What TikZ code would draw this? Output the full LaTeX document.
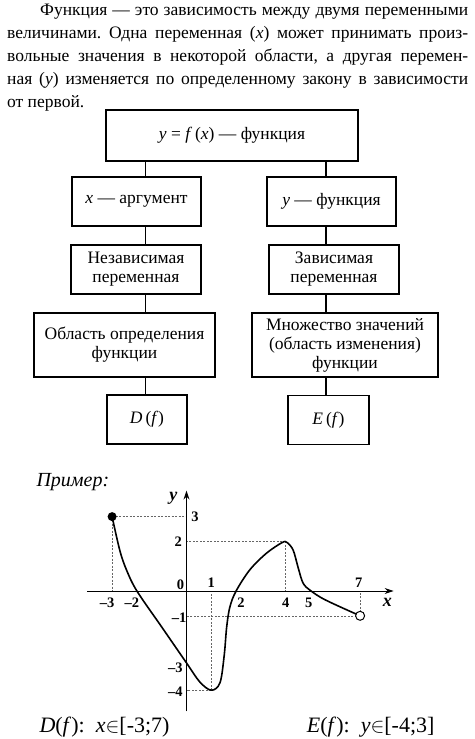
\documentclass[tikz,border=0pt]{standalone}
\usepackage{fontspec}
\setmainfont{Liberation Serif}
\usetikzlibrary{arrows.meta,positioning}

\begin{document}
\frenchspacing
\begin{tikzpicture}[
  x=1pt, y=1pt,
  font=\fontsize{17.5}{19}\selectfont,
  role/.style={draw, line width=1.1pt, align=center, inner sep=2pt},
  link/.style={line width=1.1pt},
  guide/.style={gray!80!black, line width=0.5pt, dash pattern=on 2pt off 1.5pt},
  tick/.style={font=\fontsize{14.5}{14.5}\selectfont\bfseries, inner sep=1pt},
  axis/.style={line width=1pt, -{Stealth[length=9pt,width=6pt]}},
  curve/.style={line width=1.6pt, line join=round}
]
\useasboundingbox (0,0) rectangle (474,-739);

% text
\node[anchor=north west, text width=461pt, align=justify, inner sep=0pt,
  font=\fontsize{17.5}{23}\selectfont] (intro) at (7,-4)
  {\hspace*{33pt}Функция — это зависимость между двумя переменными\linebreak
   величинами. Одна переменная (\textit{x}) может принимать произ-\linebreak
   вольные значения в некоторой области, а другая перемен-\linebreak
   ная (\textit{y}) изменяется по определенному закону в зависимости\linebreak
   от первой.};

% scheme
\node[role, minimum width=252pt, minimum height=51pt] (func) at (232,-135.5)
  {\textit{y} = \textit{f}\,(\textit{x}) — функция};
\node[role, minimum width=129pt, minimum height=49pt] (arg) at (136.5,-201.5)
  {\textit{x} — аргумент};
\node[role, minimum width=129pt, minimum height=49pt] (yfunc) at (331.5,-201.5)
  {\textit{y} — функция};
\node[role, minimum width=130pt, minimum height=49pt] (indep) at (136,-269.5)
  {Независимая\\переменная};
\node[role, minimum width=130pt, minimum height=49pt] (dep) at (334,-269.5)
  {Зависимая\\переменная};
\node[role, minimum width=181pt, minimum height=64pt] (domain) at (124.5,-345)
  {Область определения\\функции};
\node[role, minimum width=186pt, minimum height=64pt] (range) at (345,-345)
  {Множество значений\\(область изменения)\\функции};
\node[role, minimum width=80pt, minimum height=49pt] (dom) at (147,-419.5)
  {\textit{D}\,(\textit{f})};
\node[role, minimum width=81pt, minimum height=49pt] (ran) at (328.5,-420)
  {\textit{E}\,(\textit{f})};

\coordinate (lcol) at (145.5,0);
\coordinate (rcol) at (326,0);
\draw[link] (func.south -| lcol) -- (arg.north -| lcol);
\draw[link] (arg.south -| lcol) -- (indep.north -| lcol);
\draw[link] (indep.south -| lcol) -- (domain.north -| lcol);
\draw[link] (domain.south -| lcol) -- (dom.north -| lcol);
\draw[link] (func.south -| rcol) -- (yfunc.north -| rcol);
\draw[link] (yfunc.south -| rcol) -- (dep.north -| rcol);
\draw[link] (dep.south -| rcol) -- (range.north -| rcol);
\draw[link] (range.south -| rcol) -- (ran.north -| rcol);

% example
\node[anchor=west, font=\fontsize{20}{20}\selectfont\itshape] (example) at (33,-482) {Пример:};

\begin{scope}[shift={(186.5,-591)}, x=24.8pt, y=24.8pt]
  \coordinate (o) at (0,0);
  \coordinate (xmin) at (-4,0);
  \coordinate (xmax) at (8.35,0);
  \coordinate (ymin) at (0,-4.85);
  \coordinate (ymax) at (0,4.05);
  \coordinate (start) at (-3,3);
  \coordinate (top) at (4,2);
  \coordinate (low) at (1,-4);
  \coordinate (end) at (7,-1);

  % guides
  \draw[guide] (start) -- (start |- o);
  \draw[guide] (start) -- (start -| o);
  \draw[guide] (top) -- (top |- o);
  \draw[guide] (top) -- (top -| o);
  \draw[guide] (low) -- (low |- o);
  \draw[guide] (low) -- (low -| o);
  \draw[guide] (end) -- (end |- o);
  \draw[guide] (end) -- (end -| o);

  \draw[axis] (xmin) -- (xmax);
  \draw[axis] (ymin) -- (ymax);
  \node[font=\fontsize{18}{18}\selectfont\bfseries\itshape] (xlab) at (8.1,-0.47) {x};
  \node[font=\fontsize{18}{18}\selectfont\bfseries\itshape] (ylab) at (-0.53,3.72) {y};

  \draw[curve] plot[smooth, tension=0.55] coordinates {
    (-3,3) (-2.69,1.64) (-2.42,0.85) (-2,0) (-1,-1.45) (0,-2.9) (0.54,-3.67)
    (1,-4) (1.35,-3.7) (1.52,-2.6) (1.62,-1.45) (1.75,-0.64) (2,0)
    (2.55,0.85) (3.22,1.52) (3.85,1.95) (4.05,1.96) (4.3,1.65) (4.5,0.95)
    (4.7,0.32) (5,0.02) (5.6,-0.36) (7,-1)};
  \fill (start) circle (4.5pt);
  \draw[line width=1pt, fill=white] (end) circle (4.5pt);

  % ticks
  \node[tick, anchor=west] (t3) at (0.15,3) {3};
  \node[tick] (t2) at (-0.33,2) {2};
  \node[tick] (t0) at (-0.24,0.26) {0};
  \node[tick] (x1) at (1,0.34) {1};
  \node[tick] (xm3) at (-3.2,-0.47) {--3};
  \node[tick] (xm2) at (-2.2,-0.47) {--2};
  \node[tick] (x2) at (2.2,-0.47) {2};
  \node[tick] (x4) at (4,-0.47) {4};
  \node[tick] (x5) at (4.93,-0.47) {5};
  \node[tick] (x7) at (6.95,0.34) {7};
  \node[tick] (ym1) at (-0.3,-1.07) {--1};
  \node[tick] (ym3) at (-0.45,-3.1) {--3};
  \node[tick] (ym4) at (-0.45,-4.07) {--4};
\end{scope}

\node[anchor=west, font=\fontsize{22}{22}\selectfont] (dset) at (36,-727)
  {\textit{D}(\textit{f}):\ \ \textit{x}$\in$[-3;7)};
\node[anchor=east, font=\fontsize{22}{22}\selectfont] (eset) at (438,-727)
  {\textit{E}(\textit{f}):\ \ \textit{y}$\in$[-4;3]};
\end{tikzpicture}
\end{document}
